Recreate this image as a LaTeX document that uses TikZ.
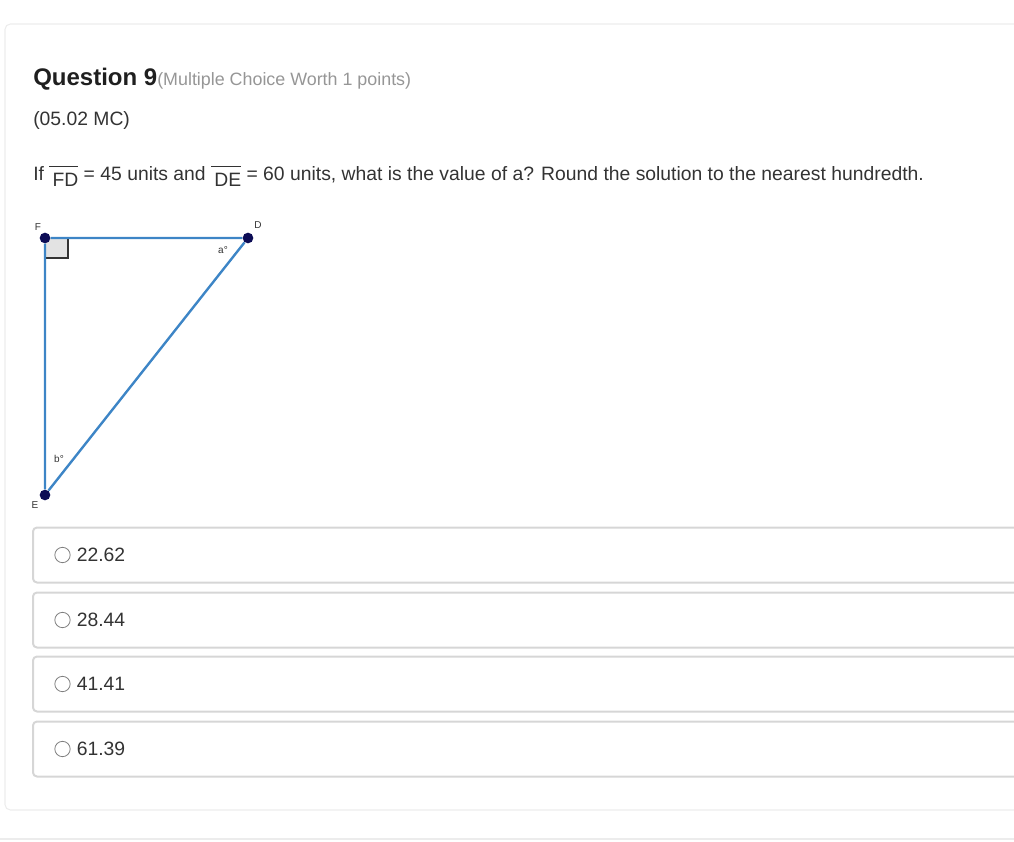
\documentclass[tikz,border=0pt]{standalone}
\usepackage{fontspec}
\setmainfont{Liberation Sans}
\usetikzlibrary{positioning}

\definecolor{sideblue}{RGB}{61,133,198}
\definecolor{dotnavy}{RGB}{12,12,85}
\definecolor{textdark}{RGB}{51,51,51}
\definecolor{textgray}{RGB}{150,150,150}
\definecolor{cardgray}{RGB}{236,236,236}
\definecolor{boxgray}{RGB}{214,214,214}

% segment name with a bar over it
\newcommand{\seg}[1]{\raisebox{-5pt}{\vbox{\hrule height 0.7pt\kern 5pt\hbox{\,#1}}}}

\begin{document}
\begin{tikzpicture}[
    x=0.75pt, y=-0.75pt,
    vertex/.style={circle, fill=dotnavy, inner sep=0pt, minimum size=8pt},
    side/.style={draw=sideblue, line width=1.8pt},
    tag/.style={font=\fontsize{7.5}{8}\selectfont, text=textdark, inner sep=0pt},
    optbox/.style={draw=boxgray, line width=1.5pt, rounded corners=3pt},
    radio/.style={circle, draw=gray, line width=0.6pt, inner sep=0pt, minimum size=11.5pt},
    opttext/.style={font=\fontsize{14.5}{17}\selectfont, text=textdark, inner sep=0pt}
]
    \useasboundingbox (0,0) rectangle (1014,842);

    % card
    \draw[cardgray, line width=0.8pt, rounded corners=4pt] (1030,24) -- (5,24) -- (5,810) -- (1030,810);
    \draw[cardgray, line width=0.8pt] (0,839) -- (1014,839);

    % question text
    \node[anchor=base west, inner sep=0pt, text=black!88] (title) at (33,86)
        {\fontsize{18}{20}\selectfont\bfseries Question 9{\mdseries\fontsize{13.4}{16}\selectfont\color{textgray}(Multiple Choice Worth 1 points)}};
    \node[anchor=base west, opttext] (code) at (33,125) {(05.02 MC)};
    \node[anchor=base west, opttext] (ask) at (33,180)
        {If \seg{FD} = 45 units and \seg{DE} = 60 units, what is the value of a? Round the solution to the nearest hundredth.};

    % triangle
    \fill[gray!22] (45,238) rectangle (68,258);
    \draw[black!80, line width=1.3pt] (68,238) -- (68,258) -- (45,258);
    \node[vertex] (F) at (45,238) {};
    \node[vertex] (D) at (248,238) {};
    \node[vertex] (E) at (45,495) {};
    \draw[side] (F) -- (D) -- (E) -- (F);

    \node[tag] (lF) at (38,227) {F};
    \node[tag] (lD) at (258,225) {D};
    \node[tag] (lE) at (35,505) {E};
    \node[tag] (la) at (223,250) {a°};
    \node[tag] (lb) at (59,459) {b°};

    % answer choices
    \foreach \val/\y [count=\k] in {22.62/555, 28.44/620, 41.41/684, 61.39/749} {
        \draw[optbox] (33,\y-27.5) rectangle (1030,\y+27.5);
        \node[radio] (r\k) at (62.5,\y) {};
        \node[opttext, right=4.5pt of r\k] (t\k) {\val};
    }
\end{tikzpicture}
\end{document}
